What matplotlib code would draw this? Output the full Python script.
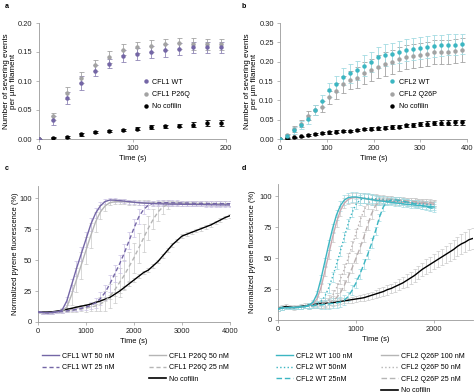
import numpy as np
import matplotlib
matplotlib.use("Agg")
import matplotlib.pyplot as plt
from matplotlib.lines import Line2D

plt.rcParams['font.family'] = ['Liberation Sans', 'DejaVu Sans']
plt.rcParams['font.size'] = 5

# ---- panel a: CFL1 severing ----
a_time = [0, 15, 30, 45, 60, 75, 90, 105, 120, 135, 150, 165, 180, 195]
a_wt = [0, 0.032, 0.071, 0.096, 0.118, 0.130, 0.143, 0.147, 0.150, 0.153, 0.155, 0.158, 0.158, 0.158]
a_wt_err = [0, 0.008, 0.010, 0.012, 0.010, 0.008, 0.010, 0.010, 0.010, 0.011, 0.010, 0.010, 0.009, 0.009]
a_mut = [0, 0.039, 0.079, 0.106, 0.127, 0.141, 0.154, 0.158, 0.160, 0.163, 0.165, 0.164, 0.163, 0.163]
a_mut_err = [0, 0.006, 0.010, 0.010, 0.010, 0.010, 0.009, 0.010, 0.010, 0.010, 0.009, 0.010, 0.010, 0.010]
a_none = [0, 0.002, 0.004, 0.008, 0.0126, 0.014, 0.016, 0.018, 0.0206, 0.0217, 0.023, 0.0246, 0.027, 0.0274]
a_none_err = [0, 0.001, 0.002, 0.002, 0.002, 0.002, 0.002, 0.002, 0.003, 0.003, 0.003, 0.004, 0.005, 0.005]

# ---- panel b: CFL2 severing ----
b_time = [0, 15, 30, 45, 60, 75, 90, 105, 120, 135, 150, 165, 180, 195, 210, 225, 240,
          255, 270, 285, 300, 315, 330, 345, 360, 375, 390]
b_wt = [0, 0.007, 0.022, 0.037, 0.051, 0.075, 0.099, 0.127, 0.142, 0.161, 0.170, 0.178, 0.190,
        0.199, 0.211, 0.217, 0.221, 0.225, 0.230, 0.233, 0.236, 0.238, 0.241, 0.242, 0.244, 0.244, 0.246]
b_wt_err = [0, 0.004, 0.008, 0.010, 0.012, 0.014, 0.016, 0.018, 0.020, 0.022, 0.024, 0.025, 0.026,
            0.027, 0.028, 0.028, 0.028, 0.028, 0.028, 0.028, 0.028, 0.028, 0.028, 0.028, 0.027, 0.027, 0.026]
b_mut = [0, 0.010, 0.026, 0.040, 0.060, 0.075, 0.084, 0.108, 0.124, 0.142, 0.153, 0.159, 0.170,
         0.178, 0.187, 0.195, 0.199, 0.206, 0.211, 0.214, 0.218, 0.221, 0.224, 0.225, 0.225, 0.228, 0.230]
b_mut_err = [0, 0.004, 0.008, 0.010, 0.012, 0.012, 0.015, 0.017, 0.020, 0.022, 0.024, 0.026, 0.028,
             0.029, 0.030, 0.031, 0.031, 0.031, 0.031, 0.031, 0.031, 0.031, 0.031, 0.031, 0.031, 0.031, 0.031]
b_none = [0, 0.002, 0.004, 0.007, 0.010, 0.013, 0.015, 0.017, 0.019, 0.020, 0.021, 0.023, 0.025,
          0.026, 0.028, 0.029, 0.031, 0.032, 0.035, 0.037, 0.039, 0.040, 0.041, 0.042, 0.042, 0.043, 0.043]
b_none_err = [0, 0.001, 0.002, 0.002, 0.002, 0.002, 0.002, 0.003, 0.003, 0.003, 0.003, 0.003, 0.003,
              0.004, 0.004, 0.004, 0.004, 0.004, 0.005, 0.005, 0.005, 0.006, 0.006, 0.006, 0.006, 0.006, 0.006]

# ---- panel c: CFL1 pyrene assay (every 100 s) ----
c_time = list(range(0, 4001, 100))
c_wt50 = [8.2, 7.6, 7.5, 7.7, 8.2, 9.5, 17, 30, 43, 55, 67, 79, 88, 94, 97.5, 98.7, 98.5, 98.2, 97.8, 97.3,
          96.9, 96.5, 96.2, 96.0, 95.8, 95.6, 95.5, 95.4, 95.3, 95.3, 95.2, 95.1, 95.1, 95.0, 95.0, 94.9,
          94.8, 94.8, 94.7, 94.7, 94.6]
c_wt50_err = [0.8, 0.8, 0.8, 0.8, 0.8, 1.5, 3, 5, 6, 6, 6, 5, 4, 3, 2, 1.5, 1.5, 1.5, 1.5, 1.5,
              1.5, 1.5, 1.5, 1.5, 1.5, 1.5, 1.5, 1.5, 1.5, 1.5, 1.5, 1.5, 1.5, 1.5, 1.5, 1.5,
              1.5, 1.5, 1.5, 1.5, 1.5]
c_wt25 = [8.2, 7.6, 7.5, 7.7, 8.0, 8.5, 9.0, 9.5, 10.2, 11, 12, 13.5, 15.5, 19, 24, 31, 39, 47, 56, 66,
          76, 85, 91, 94.5, 96, 96.5, 96.6, 96.5, 96.4, 96.3, 96.2, 96.2, 96.1, 96.0, 96.0, 95.9,
          95.9, 95.8, 95.8, 95.8, 95.7]
c_wt25_err = [1, 1, 1, 1, 1, 1, 1, 1, 1.5, 1.5, 2, 3, 4, 5, 6, 7, 7, 7, 7, 7,
              7, 6, 4, 3, 2, 2, 2, 2, 2, 2, 2, 2, 2, 2, 2, 2, 2, 2, 2, 2, 2]
c_mut50 = [8.2, 7.6, 7.5, 7.7, 8.1, 8.9, 12, 22, 34, 46, 58, 70, 81, 89, 94, 96.5, 97.3, 97.4, 97.2, 97.0,
           96.8, 96.6, 96.4, 96.3, 96.2, 96.1, 96.0, 96.0, 95.9, 95.9, 95.8, 95.8, 95.8, 95.7, 95.7, 95.7,
           95.6, 95.6, 95.6, 95.5, 95.5]
c_mut50_err = [1, 1, 1, 1, 1, 2, 4, 8, 10, 11, 11, 10, 8, 6, 4, 2, 2, 2, 2, 2,
               2, 2, 2, 2, 2, 2, 2, 2, 2, 2, 2, 2, 2, 2, 2, 2, 2, 2, 2, 2, 2]
c_mut25 = [8.2, 7.6, 7.5, 7.7, 8.0, 8.4, 8.8, 9.2, 9.8, 10.5, 11.2, 12, 13, 14.5, 17, 21, 26, 32, 38, 45,
           52, 60, 68, 76, 83, 89, 93, 95, 96, 96.2, 96.2, 96.1, 96.0, 96.0, 95.9, 95.8, 95.8, 95.7,
           95.7, 95.6, 95.5]
c_mut25_err = [1, 1, 1, 1, 1, 1, 1, 1.5, 2, 2, 3, 3, 4, 6, 8, 10, 11, 12, 12, 12,
               12, 12, 11, 10, 8, 7, 6, 4, 2, 2, 2, 2, 2, 2, 2, 2, 2, 2, 2, 2, 2]
c_none = [8.3, 8.0, 8.0, 8.3, 8.8, 9.5, 10.3, 11, 12, 12.8, 13.5, 14.5, 15.8, 17, 18.5, 20, 22.5, 25, 28, 31,
          34, 37, 40, 42, 45.5, 49, 53.5, 58, 62.5, 66, 69.5, 71, 72.5, 74, 75.5, 77, 78.5, 80.5,
          82.5, 84.5, 86]
c_none_err = [0.8, 0.8, 0.8, 0.8, 0.8, 1, 1, 1, 1, 1, 1, 1.2, 1.2, 1.2, 1.5, 1.5, 1.5, 1.5, 1.5, 1.5,
              1.5, 1.5, 1.5, 1.5, 1.5, 1.5, 1.5, 1.5, 1.5, 1.5, 1.5, 1.5, 1.5, 1.5, 1.5, 1.5,
              1.5, 1.5, 1.5, 1.5, 1.5]

# ---- panel d: CFL2 pyrene assay (every 50 s) ----
d_time = list(range(0, 2001, 50))
d_wt100 = [9, 9.5, 10, 10, 10, 10.2, 10.5, 11, 12, 14.5, 21, 33, 47, 61, 74, 85, 92.5, 97, 99, 99.5,
           99.5, 99, 98.3, 97.8, 97.3, 96.8, 96.4, 96, 95.6, 95.2, 94.8, 94.4, 94, 93.6, 93.3, 93,
           92.7, 92.4, 92, 91.7, 91.4]
d_wt50 = [9, 9.5, 10, 10, 10, 10.2, 10.5, 11, 11.5, 12, 13, 15, 19, 26, 35, 45, 56, 67, 78, 87,
          93.5, 97, 98.5, 98.6, 98.3, 97.9, 97.5, 97.1, 96.7, 96.3, 96, 95.7, 95.4, 95.1, 94.8, 94.5,
          94.2, 93.9, 93.6, 93.3, 93]
d_wt25 = [9, 9.5, 10, 10, 10, 10.2, 10.5, 11, 11.3, 11.6, 12, 12.3, 12.6, 13, 13.5, 14, 14.5, 16, 19, 24,
          30, 37, 45, 53, 62, 72, 83, 91.5, 95.5, 97, 97.2, 96.8, 96.2, 95.5, 94.8, 94, 93.2, 92.4,
          91.6, 90.8, 90]
d_mut100 = [9, 9.5, 10, 10, 10, 10.2, 10.5, 11, 11.5, 13, 17, 26, 39, 53, 67, 79, 88.5, 94.5, 97.5, 98.8,
            99, 98.8, 98.4, 98, 97.6, 97.2, 96.9, 96.6, 96.3, 96, 95.7, 95.4, 95.2, 95, 94.8, 94.6,
            94.4, 94.2, 94, 93.8, 93.6]
d_mut50 = [9, 9.5, 10, 10, 10, 10.2, 10.5, 11, 11.3, 11.7, 12, 12.8, 14, 16, 20, 26, 33, 41, 50, 60,
           70, 80, 88.5, 94, 97, 98.2, 98.3, 98, 97.7, 97.4, 97.1, 96.8, 96.5, 96.2, 96, 95.8, 95.6,
           95.4, 95.2, 95, 94.8]
d_mut25 = [9, 9.5, 10, 10, 10, 10.2, 10.5, 11, 11.3, 11.6, 12, 12.5, 13, 14, 15.5, 18, 22, 28, 35, 42,
           50, 58, 67, 77, 86, 92.5, 96, 97.5, 97.8, 97.6, 97.3, 97, 96.7, 96.4, 96.1, 95.8, 95.5,
           95.2, 95, 94.8, 94.6]
d_err = [1.5, 1.5, 1.5, 1.5, 1.5, 1.5, 1.5, 1.5, 2, 2, 2.5, 3, 3.5, 4, 4, 4, 4, 4, 4, 4,
         4, 4, 4, 4, 4, 3.5, 3, 3, 2.5, 2.5, 2.5, 2.5, 2.5, 2.5, 2.5, 2.5, 2.5, 2.5, 2.5, 2.5, 2.5]
d_none_time = list(range(0, 2501, 50))
d_none = [9, 10, 11, 10.5, 10, 10.5, 11, 11.5, 12, 12.5, 13, 13.5, 13.5, 14, 14, 14.5, 15, 15.5, 16, 16.5,
          17, 17.5, 18, 19, 20, 21, 22, 23, 24.5, 25.5, 27, 28.5, 30, 32, 34, 36, 38.5, 41, 43, 45,
          47, 49, 51, 53, 55, 57, 59.5, 61.5, 63, 65, 66]
d_none_err = [2, 2, 2, 2, 2, 2, 2, 2, 2, 2, 2, 2, 2, 2, 2, 2, 2, 2, 2, 2.5,
              2.5, 2.5, 3, 3, 3, 3, 3.5, 3.5, 4, 4, 4, 4.5, 4.5, 5, 5, 5, 5.5, 5.5, 6, 6,
              6, 6.5, 6.5, 7, 7, 7.5, 7.5, 8, 8, 8.5, 8.5]

PURPLE = '#7466a6'
PURPLE_L = '#cbc2e4'
GREY = '#a3a3a3'
GREY_L = '#c9c9c9'
TEAL = '#3cb6c2'
TEAL_L = '#a2dbe2'
SPINE = '#9a9a9a'
FS = 5.1       # horizontal text
FS_Y = 5.8     # rotated axis titles

W, H = 474, 392
fig = plt.figure(figsize=(W / 100, H / 100), dpi=100)


def box(l, t, r, b):
    return [l / W, (H - b) / H, (r - l) / W, (b - t) / H]


def style(ax):
    for s in ['top', 'right']:
        ax.spines[s].set_visible(False)
    for s in ['left', 'bottom']:
        ax.spines[s].set_color(SPINE)
        ax.spines[s].set_linewidth(0.6)
    ax.tick_params(length=2.5, width=0.5, color=SPINE, pad=2, labelsize=FS + 0.3, labelcolor='#222222')


def points(ax, x, y, e, c, ec):
    ax.errorbar(x, y, yerr=e, fmt='o', ms=3.2, color=c, ecolor=ec, elinewidth=0.6,
                capsize=1.8, capthick=0.6, mec='none', zorder=3)


# panel a
ax = fig.add_axes(box(39, 23, 226, 139))
style(ax)
points(ax, a_time, a_none, a_none_err, 'black', 'black')
points(ax, a_time, a_mut, a_mut_err, GREY, GREY)
points(ax, a_time, a_wt, a_wt_err, PURPLE, '#8f86b6')
ax.set_xlim(0, 200)
ax.set_ylim(0, 0.2)
ax.set_xticks([0, 100, 200])
ax.set_yticks([0, 0.05, 0.10, 0.15, 0.20])
ax.set_yticklabels(['0.00', '0.05', '0.10', '0.15', '0.20'])
ax.set_xlabel('Time (s)', labelpad=2, fontsize=FS + 0.3)
ax.set_ylabel('Number of severing events\nper µm filament', linespacing=1.05, fontsize=FS_Y)
ax.yaxis.set_label_coords(-0.118, 0.5)
h = [Line2D([], [], ls='none', marker='o', ms=3.2, color=c, mec='none') for c in (PURPLE, GREY, 'black')]
ax.legend(h, ['CFL1 WT', 'CFL1 P26Q', 'No cofilin'], loc='upper left', bbox_to_anchor=(0.54, 0.55),
          frameon=False, handlelength=0.6, handletextpad=0.6, labelspacing=0.75, borderpad=0,
          fontsize=FS)

# panel b
ax = fig.add_axes(box(280, 23, 467, 139))
style(ax)
points(ax, b_time, b_none, b_none_err, 'black', 'black')
points(ax, b_time, b_mut, b_mut_err, GREY, GREY)
points(ax, b_time, b_wt, b_wt_err, TEAL, TEAL_L)
ax.set_xlim(0, 400)
ax.set_ylim(0, 0.3)
ax.set_xticks([0, 100, 200, 300, 400])
ax.set_yticks([0, 0.05, 0.10, 0.15, 0.20, 0.25, 0.30])
ax.set_yticklabels(['0.00', '0.05', '0.10', '0.15', '0.20', '0.25', '0.30'])
ax.set_xlabel('Time (s)', labelpad=2, fontsize=FS + 0.3)
ax.set_ylabel('Number of severing events\nper µm filament', linespacing=1.05, fontsize=FS_Y)
ax.yaxis.set_label_coords(-0.118, 0.5)
h = [Line2D([], [], ls='none', marker='o', ms=3.2, color=c, mec='none') for c in (TEAL, GREY, 'black')]
ax.legend(h, ['CFL2 WT', 'CFL2 Q26P', 'No cofilin'], loc='upper left', bbox_to_anchor=(0.57, 0.55),
          frameon=False, handlelength=0.6, handletextpad=0.6, labelspacing=0.75, borderpad=0,
          fontsize=FS)


def trace(ax, x, y, e, c, ec, ls):
    ax.errorbar(x, y, yerr=e, fmt='none', ecolor=ec, elinewidth=0.5, capsize=1.3, capthick=0.5, zorder=2)
    ax.plot(x, y, color=c, lw=1.0, ls=ls, zorder=3)


leg_kw = dict(frameon=False, handlelength=2.4, handletextpad=0.45, labelspacing=0.65, borderpad=0,
              fontsize=FS, loc='upper left')

# panel c
ax = fig.add_axes(box(38, 186, 230, 322))
style(ax)
trace(ax, c_time, c_none, c_none_err, 'black', GREY_L, '-')
trace(ax, c_time, c_mut25, c_mut25_err, '#b5b5b5', GREY_L, (0, (3, 2)))
trace(ax, c_time, c_mut50, c_mut50_err, '#b5b5b5', GREY_L, '-')
trace(ax, c_time, c_wt25, c_wt25_err, PURPLE, PURPLE_L, (0, (3, 2)))
trace(ax, c_time, c_wt50, c_wt50_err, PURPLE, PURPLE_L, '-')
ax.set_xlim(0, 4000)
ax.set_ylim(0, 110)
ax.set_xticks([0, 1000, 2000, 3000, 4000])
ax.set_yticks([0, 25, 50, 75, 100])
ax.set_xlabel('Time (s)', labelpad=2, fontsize=FS + 0.3)
ax.set_ylabel('Normalized pyrene fluorescence (%)', fontsize=FS + 0.3)
ax.yaxis.set_label_coords(-0.099, 0.5)
h1 = [Line2D([], [], color=PURPLE, lw=1.0), Line2D([], [], color=PURPLE, lw=1.0, ls=(0, (3, 2)))]
l1 = ax.legend(h1, ['CFL1 WT 50 nM', 'CFL1 WT 25 nM'], bbox_to_anchor=(38 / W, 1 - 349 / H),
               bbox_transform=fig.transFigure, **leg_kw)
ax.add_artist(l1)
h2 = [Line2D([], [], color='#b5b5b5', lw=1.0), Line2D([], [], color='#b5b5b5', lw=1.0, ls=(0, (3, 2))),
      Line2D([], [], color='black', lw=1.2)]
ax.legend(h2, ['CFL1 P26Q 50 nM', 'CFL1 P26Q 25 nM', 'No cofilin'], bbox_to_anchor=(145 / W, 1 - 349 / H),
          bbox_transform=fig.transFigure, **leg_kw)

# panel d
ax = fig.add_axes(box(278, 184, 473, 320))
style(ax)
trace(ax, d_none_time, d_none, d_none_err, 'black', GREY_L, '-')
trace(ax, d_time, d_mut25, d_err, '#b9b0b0', GREY_L, (0, (4, 2)))
trace(ax, d_time, d_mut50, d_err, '#b9b0b0', GREY_L, ':')
trace(ax, d_time, d_mut100, d_err, '#c9a9b0', GREY_L, '-')
trace(ax, d_time, d_wt25, d_err, TEAL, TEAL_L, (0, (4, 2)))
trace(ax, d_time, d_wt50, d_err, TEAL, TEAL_L, ':')
trace(ax, d_time, d_wt100, d_err, TEAL, TEAL_L, '-')
ax.set_xlim(0, 2500)
ax.set_ylim(0, 110)
ax.set_xticks([0, 1000, 2000])
ax.set_yticks([0, 25, 50, 75, 100])
ax.set_xlabel('Time (s)', labelpad=2, fontsize=FS + 0.3)
ax.set_ylabel('Normalized pyrene fluorescence (%)', fontsize=FS + 0.3)
ax.yaxis.set_label_coords(-0.113, 0.5)
h1 = [Line2D([], [], color=TEAL, lw=1.0), Line2D([], [], color=TEAL, lw=1.0, ls=':'),
      Line2D([], [], color=TEAL, lw=1.0, ls=(0, (4, 2)))]
l1 = ax.legend(h1, ['CFL2 WT 100 nM', 'CFL2 WT 50nM', 'CFL2 WT 25nM'], bbox_to_anchor=(272 / W, 1 - 349 / H),
               bbox_transform=fig.transFigure, **leg_kw)
ax.add_artist(l1)
h2 = [Line2D([], [], color='#b5b5b5', lw=1.0), Line2D([], [], color='#b5b5b5', lw=1.0, ls=':'),
      Line2D([], [], color='#b5b5b5', lw=1.0, ls=(0, (4, 2))), Line2D([], [], color='black', lw=1.2)]
ax.legend(h2, ['CFL2 Q26P 100 nM', 'CFL2 Q26P 50 nM', 'CFL2 Q26P 25 nM', 'No cofilin'],
          bbox_to_anchor=(377 / W, 1 - 349 / H), bbox_transform=fig.transFigure, **leg_kw)

# panel letters
for s, x, y in [('a', 5, 6), ('b', 242, 6), ('c', 5, 168), ('d', 242, 168)]:
    fig.text(x / W, 1 - y / H, s, fontsize=FS, fontweight='bold', va='center', ha='left')

fig.savefig('out.png', dpi=100)
